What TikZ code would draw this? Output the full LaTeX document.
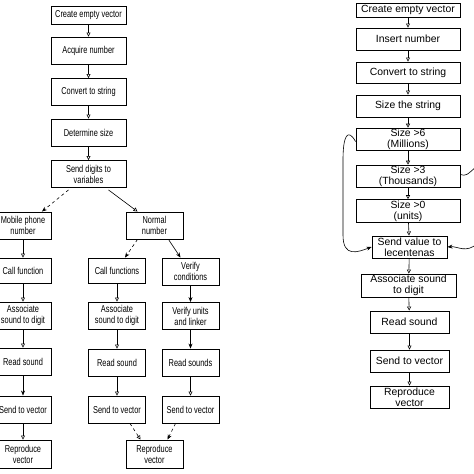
\documentclass[tikz,border=0pt]{standalone}
\usepackage{fontspec}
\setmainfont{Liberation Sans}
\newfontfamily\narrowfont[FakeStretch=0.74]{Liberation Sans}
\usetikzlibrary{arrows.meta}
\begin{document}
\begin{tikzpicture}[x=1pt,y=-1pt,
  lbox/.style={draw,line width=0.9pt,minimum width=57pt,minimum height=27pt,inner sep=1pt,align=center,font=\narrowfont\fontsize{10}{11}\selectfont},
  rbox/.style={draw,line width=0.9pt,minimum width=104pt,minimum height=22pt,inner sep=1pt,align=center,font=\fontsize{10.4}{11}\selectfont},
  arr/.style={-{Triangle[open,length=4pt,width=4pt]},line width=0.6pt},
  sarr/.style={-{Stealth[length=5pt,width=4pt]},line width=0.6pt}]
\useasboundingbox (0,0) rectangle (474,474);
\clip (0,0) rectangle (474,474);
% ---------- left diagram ----------
\node[lbox,minimum width=75pt,minimum height=18pt] (c1) at (88.5,15) {Create empty vector};
\node[lbox,minimum width=75pt] (a1) at (88.5,50.5) {Acquire number};
\node[lbox,minimum width=75pt] (cv) at (88.5,92) {Convert to string};
\node[lbox,minimum width=75pt] (ds) at (88.5,132.5) {Determine size};
\node[lbox,minimum width=75pt] (sd) at (88.5,174) {Send digits to\\variables};
\node[lbox] (mp) at (23,225.5) {Mobile phone\\number};
\node[lbox] (nn) at (154.5,225.5) {Normal\\number};
\node[lbox,minimum height=25pt] (cf1) at (23,270.5) {Call function};
\node[lbox,minimum height=25pt] (cf2) at (117,270.5) {Call functions};
\node[lbox] (vc) at (190.5,271.5) {Verify\\conditions};
\node[lbox] (as1) at (23,315.5) {Associate\\sound to digit};
\node[lbox] (as2) at (117,315.5) {Associate\\sound to digit};
\node[lbox] (vu) at (190.5,316) {Verify units\\and linker};
\node[lbox] (rs1) at (23,361.5) {Read sound};
\node[lbox] (rs2) at (117,362.5) {Read sound};
\node[lbox] (rs3) at (190.5,362.5) {Read sounds};
\node[lbox] (sv1) at (23,409.5) {Send to vector};
\node[lbox] (sv2) at (117,409.5) {Send to vector};
\node[lbox] (sv3) at (190.5,409.5) {Send to vector};
\node[lbox,minimum height=28pt] (rp1) at (23,454) {Reproduce\\vector};
\node[lbox,minimum height=28pt] (rp2) at (154.5,454) {Reproduce\\vector};
\draw[arr] (c1) -- (a1);
\draw[arr] (a1) -- (cv);
\draw[arr] (cv) -- (ds);
\draw[arr] (ds) -- (sd);
\draw[sarr,dashed] ([xshift=-20pt,yshift=-2pt]sd.south) -- ([xshift=-10pt]mp.north east);
\draw[arr] ([xshift=20pt,yshift=-2pt]sd.south) -- ([xshift=-17pt]nn.north);
\draw[sarr,dashed] ([xshift=-17pt]nn.south) -- ([xshift=8pt]cf2.north);
\draw[sarr] ([xshift=14pt]nn.south) -- ([xshift=-10pt]vc.north);
\draw[arr] (mp) -- (cf1);
\draw[arr] (cf1) -- (as1);
\draw[arr] (as1) -- (rs1);
\draw[sarr] (rs1) -- (sv1);
\draw[arr] (sv1) -- (rp1);
\draw[arr] (cf2) -- (as2);
\draw[arr] (as2) -- (rs2);
\draw[arr] (rs2) -- (sv2);
\draw[sarr] (vc) -- (vu);
\draw[sarr] (vu) -- (rs3);
\draw[arr] (rs3) -- (sv3);
\draw[arr,dashed] ([xshift=13pt]sv2.south) -- ([xshift=-14pt]rp2.north);
\draw[sarr,dashed] ([xshift=-15pt]sv3.south) -- ([xshift=13pt]rp2.north);
% ---------- right diagram ----------
\node[rbox,minimum height=14pt] (r1) at (408,10) {Create empty vector};
\node[rbox] (r2) at (408,39) {Insert number};
\node[rbox,minimum height=21pt] (r3) at (408,72.5) {Convert to string};
\node[rbox] (r4) at (408,106) {Size the string};
\node[rbox,minimum height=21pt] (r5) at (408,139.5) {Size >6\\(Millions)};
\node[rbox,minimum height=21pt] (r6) at (408,176.5) {Size >3\\(Thousands)};
\node[rbox] (r7) at (408,211) {Size >0\\(units)};
\node[rbox,minimum width=75pt] (r8) at (409.5,247) {Send value to\\lecentenas};
\node[rbox,minimum width=95pt,minimum height=23pt] (r9) at (408.5,285.5) {Associate sound\\to digit};
\node[rbox,minimum width=79pt] (r10) at (409.5,322) {Read sound};
\node[rbox,minimum width=79pt] (r11) at (409.5,361) {Send to vector};
\node[rbox,minimum width=79pt] (r12) at (409.5,397) {Reproduce\\vector};
\draw[arr] (r1) -- (r2);
\draw[arr] (r2) -- (r3);
\draw[arr] (r3) -- (r4);
\draw[arr] (r4) -- (r5);
\draw[arr] (r5) -- (r6);
\draw[arr] (r6) -- (r7);
\draw[arr] (r7) -- (r8);
\draw[arr] (r8) -- (r9);
\draw[arr] (r9) -- (r10);
\draw[arr] (r10) -- (r11);
\draw[arr] (r11) -- (r12);
\coordinate (ro1) at (478,165);
\coordinate (ro2) at (478,243);
\draw[sarr] ([yshift=-2pt]r5.west) .. controls (348,128) and (343,135) .. (343,160) -- (343,235) .. controls (343,258) and (358,252) .. (r8.west);
\draw[line width=0.6pt] ([yshift=2pt]r6.east) .. controls (466,176) .. (ro1);
\draw[sarr] (ro2) .. controls (466,254) and (458,246) .. (r8.east);
\end{tikzpicture}
\end{document}
